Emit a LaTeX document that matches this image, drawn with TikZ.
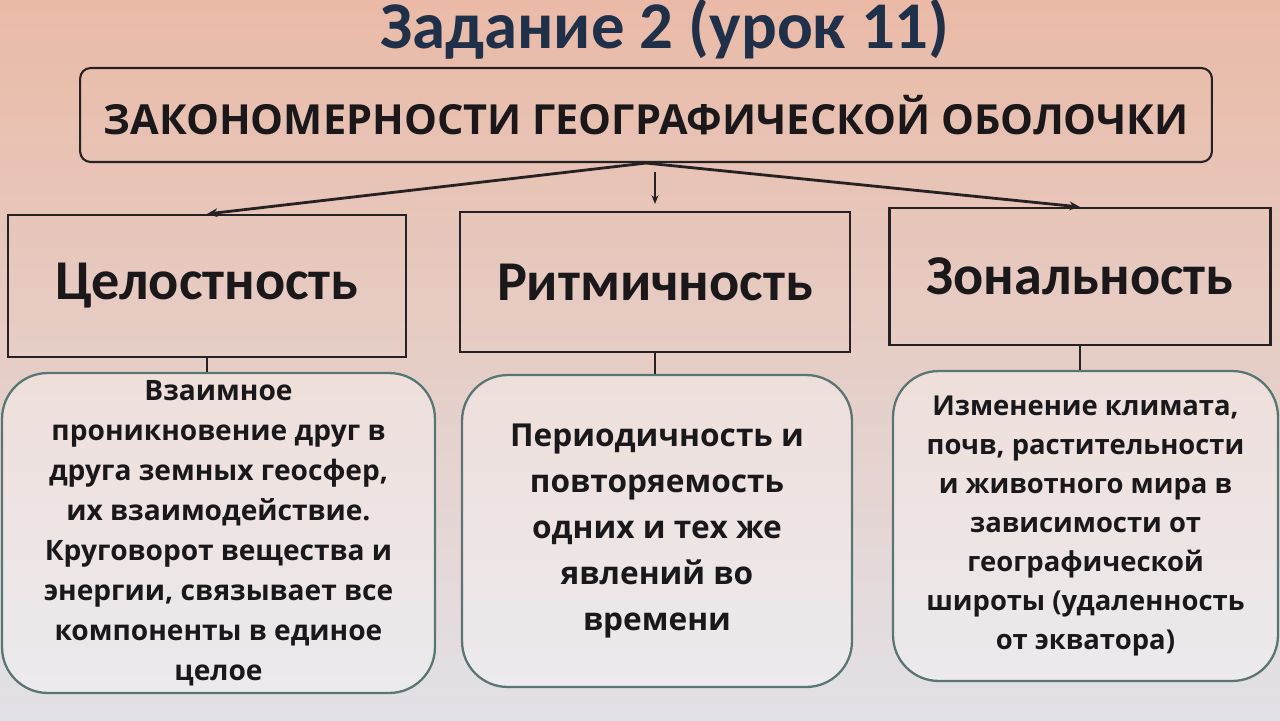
\documentclass[tikz,border=0pt]{standalone}
\usepackage{fontspec}
\setmainfont{Open Sans}
\newfontfamily\calibri{Carlito}
\usetikzlibrary{arrows.meta}
\definecolor{slidepeach}{RGB}{234,186,166}
\definecolor{slidegrey}{RGB}{226,225,231}
\definecolor{titlenavy}{RGB}{30,48,74}
\definecolor{boxline}{RGB}{38,34,36}
\definecolor{roundline}{RGB}{88,118,116}
\definecolor{inktext}{RGB}{26,24,26}
\begin{document}
\begin{tikzpicture}[x=0.02cm,y=-0.02cm,
  law/.style={draw=boxline,line width=1.2pt,rounded corners=6pt,
              minimum width=22.64cm,minimum height=1.88cm,text=inktext,
              font=\bfseries\fontsize{23.6}{28}\selectfont},
  kind/.style={draw=boxline,line width=1.2pt,text=inktext,
               font=\calibri\bfseries\fontsize{32}{38}\selectfont},
  gloss/.style={draw=roundline,line width=1.3pt,rounded corners=26pt,
                fill=white,fill opacity=0.35,text opacity=1,
                align=center,text=inktext},
  branch/.style={draw=boxline,line width=1.6pt,
                 -{Stealth[length=6pt,width=5pt]}},
  stem/.style={draw=boxline,line width=0.8pt,
               -{Stealth[length=5pt,width=4pt]}},
  link/.style={draw=boxline,line width=1pt}]
\fill[top color=slidepeach,bottom color=slidegrey,middle color=slidepeach!50!slidegrey]
  (0,0) rectangle (1280,720);
\useasboundingbox (0,0) rectangle (1280,720);
\node[text=titlenavy,font=\calibri\bfseries\fontsize{38}{42}\selectfont]
  (title) at (665,29) {Задание 2 (урок 11)};
\node[law] (laws) at (646,115) {ЗАКОНОМЕРНОСТИ ГЕОГРАФИЧЕСКОЙ ОБОЛОЧКИ};
\node[kind,minimum width=7.96cm,minimum height=2.84cm] (cel) at (207,286) {Целостность};
\node[kind,minimum width=7.8cm,minimum height=2.8cm] (rit) at (655,282) {Ритмичность};
\node[kind,minimum width=7.62cm,minimum height=2.74cm] (zon) at (1080,276.5) {Зональность};
\draw[branch] (laws.south) -- (cel.north);
\draw[branch] (laws.south) -- (zon.north);
\draw[stem,shorten <=5pt,shorten >=4pt] (laws.south -| rit.north) -- (rit.north);
\node[gloss,minimum width=8.66cm,minimum height=6.4cm,
      font=\bfseries\fontsize{16}{22.8}\selectfont] (celtext) at (218.5,533)
  {Взаимное\\проникновение друг в\\друга земных геосфер,\\их взаимодействие.\\
   Круговорот вещества и\\энергии, связывает все\\компоненты в единое\\целое};
\node[gloss,minimum width=7.8cm,minimum height=6.24cm,
      font=\bfseries\fontsize{18}{26.2}\selectfont] (rittext) at (657,531)
  {Периодичность и\\повторяемость\\одних и тех же\\явлений во\\времени};
\node[gloss,minimum width=7.7cm,minimum height=6.2cm,
      font=\bfseries\fontsize{15.6}{22.2}\selectfont] (zontext) at (1085.5,526)
  {Изменение климата,\\почв, растительности\\и животного мира в\\зависимости от\\
   географической\\широты (удаленность\\от экватора)};
\draw[link] (cel.south) -- (cel.south |- celtext.north);
\draw[link] (rit.south) -- (rit.south |- rittext.north);
\draw[link] (zon.south) -- (zon.south |- zontext.north);
\end{tikzpicture}
\end{document}
